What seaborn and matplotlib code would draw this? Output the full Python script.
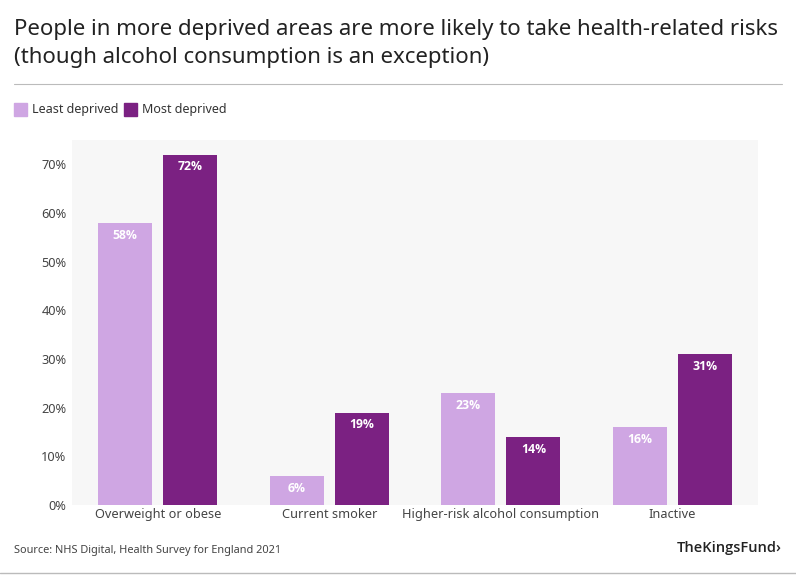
import pandas as pd
import matplotlib.pyplot as plt
import seaborn as sns

# Datos
categorias = ['Overweight or obese', 'Current smoker', 'Higher-risk alcohol consumption', 'Inactive']
least_deprived = [58, 6, 23, 16]
most_deprived = [72, 19, 14, 31]
grupos = ['Least deprived', 'Most deprived']

df = pd.DataFrame({
    'categoria': categorias * 2,
    'valor': least_deprived + most_deprived,
    'grupo': [grupos[0]] * 4 + [grupos[1]] * 4,
})

sns.set_style('white')
plt.rcParams['font.family'] = ['Noto Sans', 'DejaVu Sans']

colores = {'Least deprived': '#cfa6e3', 'Most deprived': '#7b2182'}

fig = plt.figure(figsize=(7.96, 5.75), dpi=100)
ax = fig.add_axes([72 / 796, 1 - 505 / 575, 686 / 796, 365 / 575])
sns.barplot(data=df, x='categoria', y='valor', hue='grupo', palette=colores,
            width=0.76, gap=0.17, ax=ax, legend=False, saturation=1,
            edgecolor='none', linewidth=0)

ax.set_facecolor('#f7f7f7')
ax.set_xlim(-0.5, 3.5)
ax.set_ylim(0, 75)
ax.set_yticks(range(0, 71, 10))
ax.set_yticklabels([f'{v}%' for v in range(0, 71, 10)])
ax.set_xlabel('')
ax.set_ylabel('')
for s in ax.spines.values():
    s.set_visible(False)
ax.tick_params(axis='both', length=0, labelsize=9.2, colors='#444444', pad=2)
ax.tick_params(axis='y', pad=4)

# etiquetas dentro de las barras
for cont in ax.containers:
    for bar in cont:
        h = bar.get_height()
        ax.text(bar.get_x() + bar.get_width() / 2, h - 1.2, f'{h:.0f}%',
                ha='center', va='top', color='white', fontsize=8.8, fontweight='bold',
                family=['Open Sans', 'DejaVu Sans'])

# titulo
fig.text(14 / 796, 1 - 30 / 575, 'People in more deprived areas are more likely to take health-related risks',
         fontsize=16, color='#222222', va='center')
fig.text(14 / 796, 1 - 57 / 575, '(though alcohol consumption is an exception)',
         fontsize=16, color='#222222', va='center')
fig.add_artist(plt.Line2D([14 / 796, 782 / 796], [1 - 84 / 575] * 2, color='#bbbbbb', lw=0.8))

# leyenda
x0 = 14
for g in grupos:
    fig.patches.append(plt.Rectangle((x0 / 796, 1 - 116 / 575), 13 / 796, 13 / 575,
                                     transform=fig.transFigure, color=colores[g]))
    fig.text((x0 + 18) / 796, 1 - 109.5 / 575, g, fontsize=9, color='#333333', va='center')
    x0 += 110

# pie
fig.text(14 / 796, 1 - 550 / 575, 'Source: NHS Digital, Health Survey for England 2021',
         fontsize=7.9, color='#444444', va='center')
fig.text(782 / 796, 1 - 548 / 575, 'TheKingsFund\u203a', fontsize=10.5, color='#222222',
         va='center', ha='right', fontweight='semibold', family=['Open Sans', 'DejaVu Sans'])
fig.add_artist(plt.Line2D([0, 1], [1 - 573 / 575] * 2, color='#bbbbbb', lw=1))

fig.savefig('out.png', dpi=100, facecolor='white')
